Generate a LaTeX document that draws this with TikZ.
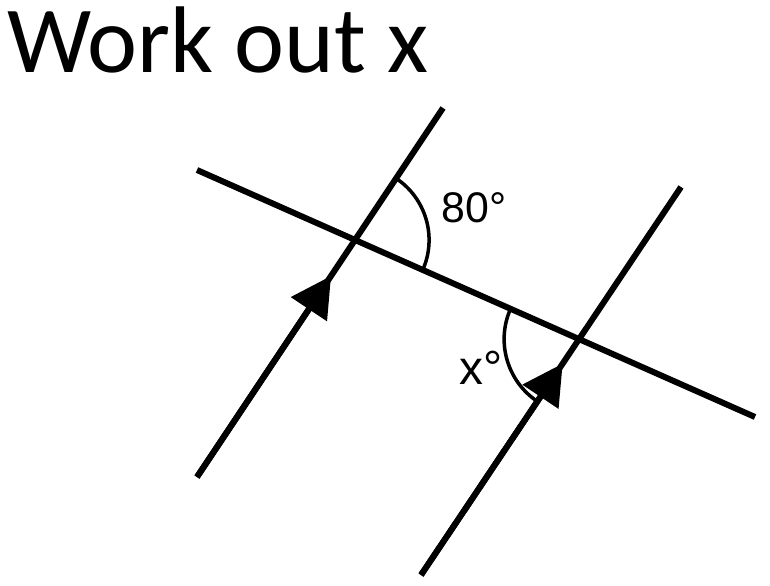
\documentclass[tikz,border=0pt]{standalone}
\usepackage{fontspec}
\setmainfont{Liberation Sans}
\newfontfamily\titlefont{Carlito}
\usetikzlibrary{arrows.meta,calc}

\begin{document}
\begin{tikzpicture}[x=1bp,y=-1bp]
    \useasboundingbox (0,0) rectangle (770,586);
    \node[anchor=base west, inner sep=0pt, font=\titlefont\fontsize{95}{100}\selectfont] (title) at (7,73) {Work out x};

    % end points of the transversal and the two parallel lines
    \coordinate (t1) at (197,170);
    \coordinate (t2) at (755,417);
    \coordinate (l1) at (197,477);
    \coordinate (l2) at (443,108);
    \coordinate (r1) at (421,575);
    \coordinate (r2) at (681,187);
    \coordinate (A) at (intersection of t1--t2 and l1--l2);
    \coordinate (B) at (intersection of t1--t2 and r1--r2);

    \draw[line width=6bp] (t1) -- (t2);
    \draw[line width=6bp] (l1) -- (l2);
    \draw[line width=6bp] (r1) -- (r2);

    % arrows showing the lines are parallel
    \draw[line width=6bp, -{Triangle[length=40bp,width=42bp]}] (l1) -- ($(l1)!0.545!(l2)$);
    \draw[line width=6bp, -{Triangle[length=40bp,width=42bp]}] (r1) -- ($(r1)!0.545!(r2)$);

    % angles
    \draw[line width=3.5bp] ($(A)+(-56.3:74)$) arc[start angle=-56.3, end angle=23.9, radius=74];
    \node[font=\fontsize{43}{46}\selectfont, inner sep=0pt] (top) at (474,208) {80\textdegree};
    \draw[line width=3.5bp] ($(B)+(123.8:75)$) arc[start angle=123.8, end angle=203.9, radius=75];
    \node[font=\fontsize{48}{52}\selectfont, inner sep=0pt] (low) at (481,368) {x\textdegree};
\end{tikzpicture}
\end{document}
